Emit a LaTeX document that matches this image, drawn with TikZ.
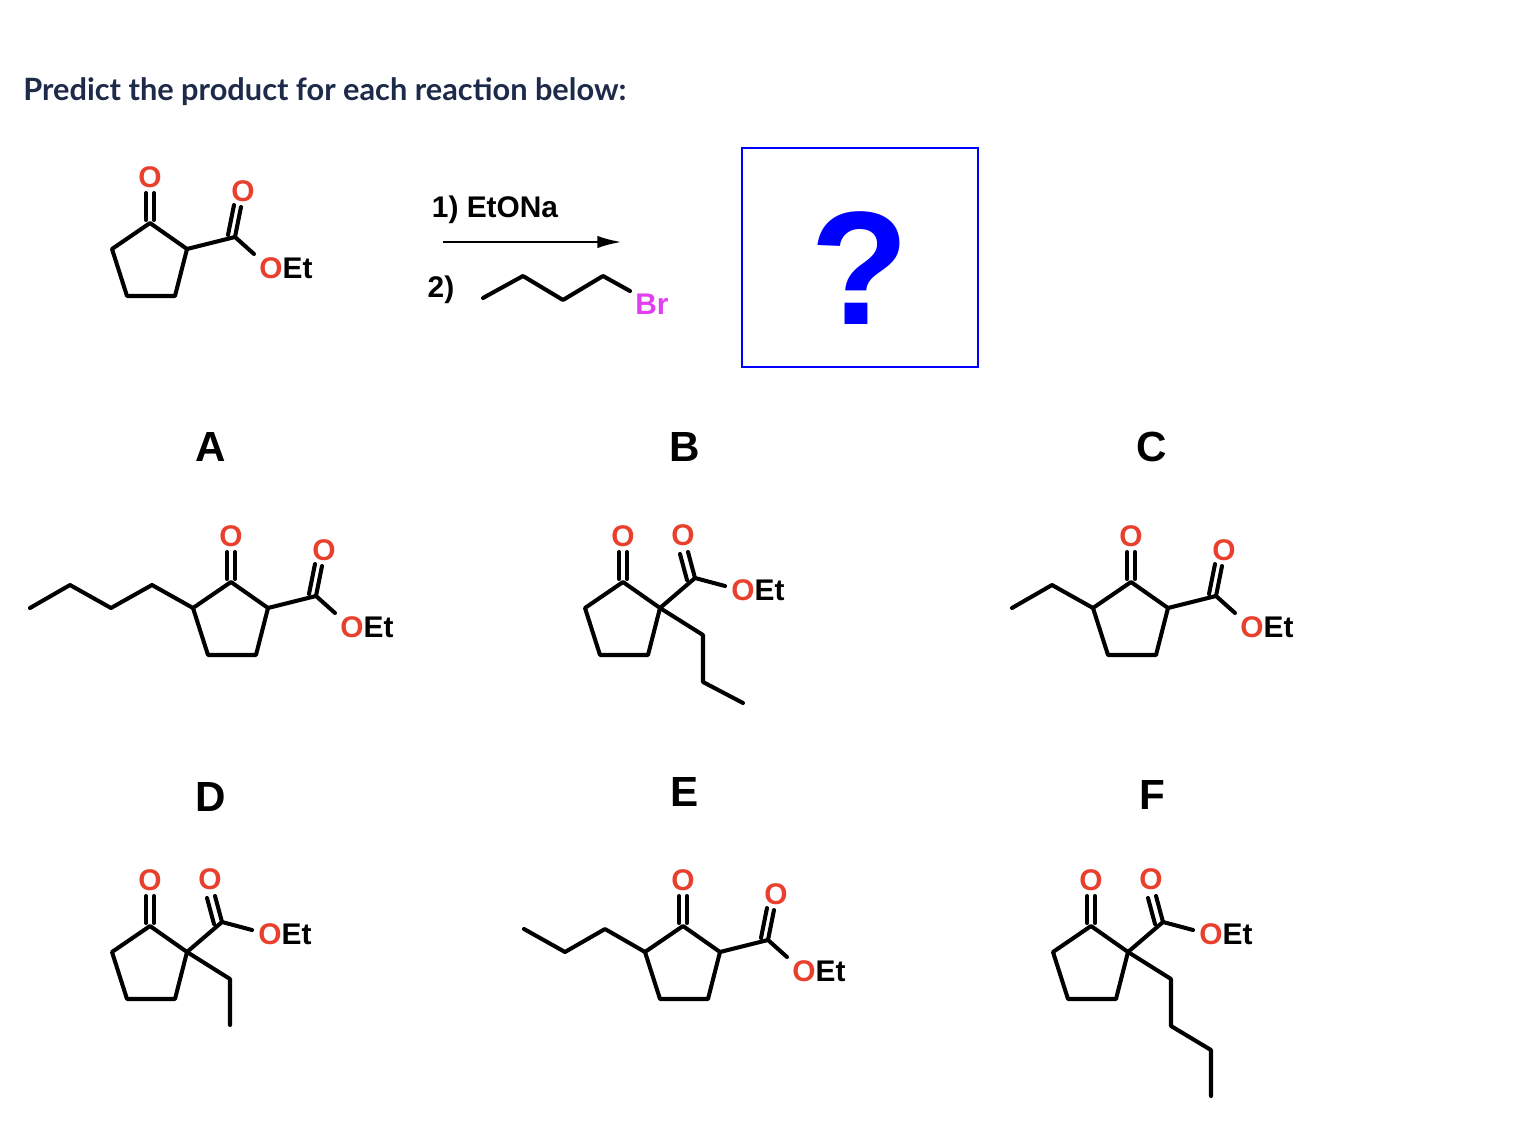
\documentclass[tikz,border=0pt]{standalone}
\usepackage{fontspec}
\usetikzlibrary{arrows.meta}
\setmainfont{Liberation Sans}
\newfontfamily\latofont{Lato}
\definecolor{ored}{HTML}{E8402C}
\definecolor{navy}{HTML}{1E2A4A}
\definecolor{brmag}{HTML}{E040F0}
\tikzset{bond/.style={line width=2.3pt,line cap=round,line join=round},
 atom/.style={font=\fontsize{17}{17}\selectfont\bfseries,inner sep=0pt},
 oxy/.style={atom,text=ored},
 letter/.style={font=\fontsize{24}{24}\selectfont\bfseries,inner sep=0pt}}
% ring with ketone, origin = carbonyl carbon
\newcommand\ketoring{%
 \draw[bond] (0,0)--(37,26)--(25,73)--(-23,73)--(-38,26)--cycle;
 \draw[bond] (-4,-3)--(-4,-30) (4,-3)--(4,-30);
 \node[oxy] at (0,-46) {O};}
\newcommand\esterA{%
 \draw[bond] (37,26)--(85,14)--(104,31);
 \draw[bond] (85,14)--(91,-16) (78,12)--(84,-18);
 \node[oxy] at (93,-32) {O};
 \node[atom] at (136,45) {\textcolor{ored}{O}Et};}
\newcommand\esterB{%
 \draw[bond] (37,26)--(72,-4)--(102,4);
 \draw[bond] (72,-4)--(65,-30) (64,-2)--(57,-28);
 \node[oxy] at (60,-47) {O};
 \node[atom] at (135,8) {\textcolor{ored}{O}Et};}
\begin{document}
\begin{tikzpicture}[x=0.02cm,y=-0.02cm]
\useasboundingbox (0,0) rectangle (1536,1146);
\node[anchor=west,inner sep=0pt,text=navy,font=\latofont\fontsize{17.5}{17.5}\selectfont\bfseries] (title) at (23,92) {Predict the product for each reaction below:};
% starting material
\begin{scope}[shift={(150,223)}] \ketoring \esterA \end{scope}
% reagents
\node[atom] (r1) at (495,210) {1) EtONa};
\node[atom] (r2) at (441,290) {2)};
\coordinate (a1) at (443,242); \coordinate (a2) at (622,242);
\draw[line width=1.6pt,-{Latex[length=14pt,width=7pt]}] (a1)--(a2);
\draw[bond] (483,298)--(523,276)--(563,300)--(603,276)--(630,291);
\node[atom,text=brmag] (br) at (652,304) {Br};
\node[draw=blue,line width=1.2pt,minimum width=236*0.02cm,minimum height=219*0.02cm,inner sep=0pt] (box) at (860,257.5) {};
\node[text=blue,font=\fontsize{92}{92}\selectfont\bfseries,inner sep=0pt] (q) at (860,268) {?};
% letters
\node[letter] (A) at (211,447) {A};
\node[letter] (B) at (685,447) {B};
\node[letter] (C) at (1152,447) {C};
\node[letter] (D) at (211,797) {D};
\node[letter] (E) at (685,792) {E};
\node[letter] (F) at (1152,795) {F};
% A
\begin{scope}[shift={(231,582)}] \ketoring \esterA
 \draw[bond] (-38,26)--(-79,3)--(-120,26)--(-161,3)--(-201,26); \end{scope}
% B
\begin{scope}[shift={(623,582)}] \ketoring \esterB
 \draw[bond] (37,26)--(80,53)--(80,100)--(120,121); \end{scope}
% C
\begin{scope}[shift={(1131,582)}] \ketoring \esterA
 \draw[bond] (-38,26)--(-79,3)--(-119,26); \end{scope}
% D
\begin{scope}[shift={(150,926)}] \ketoring \esterB
 \draw[bond] (37,26)--(80,53)--(80,99); \end{scope}
% E
\begin{scope}[shift={(683,926)}] \ketoring \esterA
 \draw[bond] (-38,26)--(-78,3)--(-118,26)--(-159,3); \end{scope}
% F
\begin{scope}[shift={(1091,926)}] \ketoring \esterB
 \draw[bond] (37,26)--(80,53)--(80,100)--(120,124)--(120,170); \end{scope}
\end{tikzpicture}
\end{document}
